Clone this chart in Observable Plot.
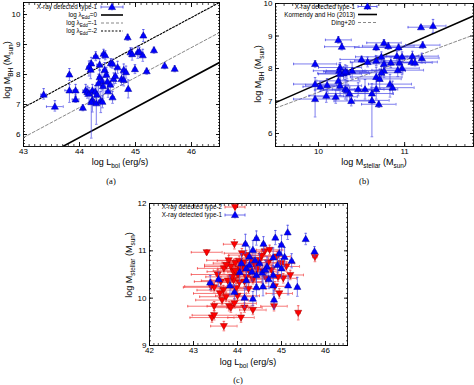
<!DOCTYPE html>
<html><head><meta charset="utf-8">
<script src="https://cdn.jsdelivr.net/npm/d3@7"></script>
<script src="https://cdn.jsdelivr.net/npm/@observablehq/plot@0.6"></script>
<style>
body{margin:0;background:#fff;}
#fig{position:relative;width:474px;height:385px;overflow:hidden;background:#fff;}
#fig svg{position:absolute;overflow:visible;}
</style></head><body><div id="fig"></div>
<script>
// ---------- Panel (a): log L_bol vs log M_BH (type-1) ----------
const aL   = [43.36,43.56,43.82,43.82,43.93,43.93,44.06,44.11,44.14,44.17,44.23,44.28,44.31,44.23,44.21,44.30,44.38,44.41,44.59,44.51,44.87,44.29,44.43,44.46,44.21,44.17,44.20,44.36,44.56,44.59,44.45,44.68,44.79,44.83,44.36,44.40,44.48,44.61,44.64,44.75,44.79,44.50,44.55,44.42,44.34,44.86,45.14,44.91,44.94,45.04,45.07,45.13,45.33,45.52,45.70,45.20,44.99];
const aM   = [7.33,6.93,8.00,7.47,7.47,7.17,6.89,7.47,7.41,7.36,7.47,7.43,7.33,7.15,7.08,7.04,7.13,7.09,7.24,7.44,7.52,8.61,8.69,8.64,8.37,8.25,8.16,8.33,8.38,8.36,8.15,8.24,8.15,8.08,7.91,7.78,7.99,7.85,7.95,7.85,7.82,7.76,7.66,7.61,7.71,9.24,9.30,8.74,8.68,8.74,8.76,8.64,8.81,8.29,8.19,8.11,8.18];
const aLerr= [0.05,0.15,0.03,0.08,0.04,0.06,0.03,0.05,0.04,0.05,0.04,0.03,0.04,0.04,0.04,0.04,0.04,0.03,0.03,0.05,0.03,0.04,0.04,0.03,0.04,0.04,0.04,0.05,0.04,0.04,0.04,0.04,0.04,0.03,0.04,0.04,0.04,0.03,0.03,0.03,0.03,0.04,0.04,0.04,0.04,0.03,0.03,0.03,0.03,0.03,0.03,0.03,0.03,0.03,0.03,0.03,0.03];
const aMlo = [0.15,0.15,0.2,0.4,0.2,0.1,0.1,0.2,0.2,0.3,0.3,0.2,0.3,0.4,1.2,0.7,0.4,0.2,0.2,0.2,0.3,0.15,0.15,0.15,0.25,0.3,0.3,0.2,0.15,0.15,0.25,0.2,0.2,0.2,0.25,0.3,0.25,0.2,0.25,0.2,0.2,0.3,0.3,0.4,0.3,0.1,0.2,0.15,0.2,0.2,0.15,0.2,0.1,0.1,0.1,0.1,0.15];
const aMhi = [0.2,0.2,0.2,0.2,0.2,0.15,0.1,0.2,0.2,0.2,0.2,0.2,0.3,0.3,0.3,0.3,0.3,0.2,0.2,0.2,0.3,0.15,0.15,0.15,0.2,0.2,0.3,0.2,0.15,0.15,0.25,0.2,0.2,0.2,0.25,0.3,0.25,0.2,0.25,0.2,0.2,0.3,0.2,0.3,0.3,0.1,0.2,0.15,0.2,0.2,0.15,0.2,0.1,0.1,0.1,0.1,0.15];
const aXTicks = [43,44,45,46];
const aYTicks = [6,7,8,9,10];
// Eddington-ratio lines, endpoints at the x-domain limits
const eddL  = [43, 46.5];
const eddM0 = [4.9, 8.4];
const eddM1 = [5.9, 9.4];
const eddM2 = [6.9, 10.4];

// ---------- Panel (b): log M_stellar vs log M_BH (type-1) ----------
const bS    = [11.19,11.33,10.23,10.27,10.67,10.76,10.81,10.93,11.21,9.96,10.50,10.57,10.67,10.73,10.76,10.84,10.91,10.97,10.94,11.09,11.20,11.08,11.12,10.92,10.97,10.76,10.73,10.25,10.24,10.25,10.29,10.33,10.39,10.31,10.67,10.71,9.96,10.02,10.10,10.23,10.25,10.31,10.33,10.46,10.54,10.62,10.67,10.83,10.86,9.96,10.09,10.20,10.36,10.38,10.62,10.70];
const bM    = [9.27,9.31,8.88,8.67,8.65,8.79,8.69,8.65,8.72,8.14,8.28,8.20,8.24,8.36,8.14,8.18,8.38,8.36,8.18,8.38,8.32,8.20,8.18,7.95,8.01,7.93,7.87,8.03,7.93,7.83,7.85,7.88,7.93,7.91,7.74,7.68,7.52,7.44,7.49,7.62,7.47,7.36,7.33,7.36,7.36,7.23,7.36,7.52,7.41,7.06,7.16,7.13,7.23,7.00,7.02,6.90];
const bSerr = [0.15,0.15,0.15,0.2,0.25,0.2,0.3,0.25,0.2,0.25,0.25,0.2,0.25,0.3,0.2,0.25,0.25,0.2,0.3,0.3,0.2,0.3,0.2,0.3,0.2,0.25,0.25,0.25,0.3,0.25,0.3,0.25,0.3,0.25,0.3,0.25,0.25,0.2,0.25,0.25,0.25,0.25,0.3,0.3,0.3,0.25,0.25,0.25,0.25,0.25,0.2,0.25,0.25,0.2,0.2,0.2];
const bMlo  = [0.05,0.2,0.1,0.1,0.1,0.1,0.1,0.1,0.1,0.1,0.1,0.15,0.15,0.15,0.1,0.15,0.15,0.15,0.1,0.15,0.15,0.1,0.1,0.2,0.2,0.2,0.25,0.15,0.2,0.2,0.2,0.2,0.25,0.2,0.3,0.3,0.2,0.15,0.2,0.3,0.3,0.3,0.3,0.2,0.3,0.3,0.3,0.4,0.2,0.55,0.2,0.2,0.3,0.15,1.12,0.1];
const bMhi  = [0.05,0.2,0.1,0.1,0.1,0.1,0.1,0.1,0.1,0.1,0.1,0.15,0.15,0.15,0.1,0.15,0.15,0.15,0.1,0.15,0.15,0.1,0.1,0.2,0.2,0.2,0.2,0.15,0.2,0.2,0.2,0.2,0.25,0.2,0.3,0.3,0.2,0.15,0.2,0.3,0.2,0.3,0.3,0.2,0.3,0.3,0.3,0.3,0.2,0.3,0.2,0.2,0.2,0.15,0.3,0.1];
const bXTicks = [10,11];
const bYTicks = [6,7,8,9,10];
const khS = [9.5, 11.8], khM = [6.95, 9.62];     // Kormendy and Ho (2013)
const dgS = [9.5, 11.8], dgM = [6.78, 9.03];     // Ding+20

// ---------- Panel (c): log L_bol vs log M_stellar ----------
const c1L  = [45.14,45.55,45.75,44.43,44.59,44.86,45.00,44.18,44.35,45.07,45.23,44.09,44.27,44.50,44.67,44.91,45.00,44.33,44.43,44.56,44.81,43.57,43.38,44.20,44.43,44.58,44.81,45.15,45.36,43.83,43.93,44.16,44.35,44.83,44.27,44.81,44.63,44.40,44.71,44.05,44.95,44.20];
const c1S  = [11.39,11.25,10.99,11.27,11.15,11.28,11.13,11.15,11.02,10.87,10.79,10.74,10.70,10.74,10.67,10.70,10.63,10.56,10.49,10.54,10.49,10.40,10.33,10.38,10.23,10.25,10.27,10.27,10.24,10.27,10.13,10.01,9.99,9.97,10.88,10.86,10.60,10.80,10.40,10.55,10.95,10.63];
const c1Le = [0.03,0.03,0.03,0.04,0.04,0.04,0.04,0.04,0.04,0.04,0.04,0.04,0.04,0.04,0.04,0.04,0.04,0.04,0.04,0.04,0.04,0.05,0.05,0.04,0.04,0.04,0.04,0.04,0.04,0.05,0.05,0.05,0.04,0.04,0.04,0.04,0.04,0.04,0.04,0.04,0.04,0.04];
const c1Se = [0.15,0.12,0.1,0.15,0.15,0.15,0.2,0.2,0.2,0.2,0.15,0.2,0.2,0.2,0.2,0.2,0.2,0.2,0.2,0.2,0.2,0.15,0.15,0.2,0.2,0.2,0.2,0.2,0.2,0.2,0.15,0.2,0.15,0.2,0.2,0.2,0.2,0.2,0.2,0.2,0.2,0.2];
const c2L  = [43.30,43.93,45.76,45.38,43.69,43.42,43.47,44.08,44.83,44.35,44.16,43.47,43.65,43.81,43.85,43.93,43.74,43.47,43.68,43.97,43.62,43.78,43.91,44.04,43.69,43.85,43.95,44.04,44.12,43.91,44.01,44.20,44.39,44.50,44.62,44.73,44.90,45.00,45.11,45.04,45.20,44.92,44.65,44.58,44.77,44.20,44.31,44.16,43.55,43.80,44.10,44.45,44.28,43.60,44.00,44.25,44.85,44.95,43.88,44.15,44.55,43.75,44.05,44.35,44.70,43.40,43.95];
const c2S  = [10.97,11.14,10.87,9.69,9.41,9.59,9.64,9.59,9.83,9.75,9.80,9.83,9.96,9.83,9.80,9.89,10.03,10.23,10.17,10.21,10.35,10.37,10.38,10.33,10.63,10.67,10.74,10.79,10.63,10.56,10.49,10.45,10.70,10.81,10.99,11.02,10.88,10.74,10.67,10.42,10.49,10.45,10.42,10.56,10.60,10.91,10.81,10.35,10.50,10.80,10.95,10.62,10.55,10.10,10.05,10.20,10.25,10.10,10.45,10.75,10.90,10.70,10.62,10.40,10.75,10.25,10.58];
const c2Le = [0.35,0.25,0.05,0.05,0.3,0.5,0.5,0.3,0.3,0.3,0.4,0.6,0.6,0.5,0.4,0.5,0.6,0.7,0.6,0.5,0.6,0.6,0.5,0.5,0.6,0.6,0.5,0.5,0.5,0.6,0.5,0.4,0.4,0.3,0.3,0.3,0.3,0.3,0.3,0.3,0.3,0.3,0.3,0.3,0.3,0.4,0.4,0.4,0.6,0.5,0.4,0.4,0.5,0.6,0.5,0.4,0.3,0.3,0.6,0.5,0.3,0.5,0.5,0.4,0.3,0.6,0.5];
const c2Se = [0.05,0.1,0.1,0.15,0.1,0.1,0.1,0.1,0.1,0.1,0.1,0.1,0.1,0.1,0.1,0.1,0.1,0.1,0.1,0.1,0.1,0.1,0.1,0.1,0.1,0.1,0.1,0.1,0.1,0.1,0.1,0.1,0.1,0.1,0.1,0.1,0.1,0.1,0.1,0.1,0.1,0.1,0.1,0.1,0.1,0.1,0.1,0.1,0.1,0.1,0.1,0.1,0.1,0.1,0.1,0.1,0.1,0.1,0.1,0.1,0.1,0.1,0.1,0.1,0.1,0.1,0.1];
const cXTicks = [42,43,44,45,46];
const cYTicks = [9,10,11,12];

// ---------- helpers ----------
const FONT = "Liberation Sans, Arial, sans-serif";
const SERIF = "Liberation Serif, 'DejaVu Serif', serif";
const BLUE = "#0000ff", BLUE_E = "#4646e6", BLUE_S = "#00009a";
const RED = "#ff0000", RED_E = "#f23c3c", RED_S = "#a00000";

const triUp = {draw(ctx, size){ const r = Math.sqrt(size/Math.PI);
  ctx.moveTo(0,-1.1*r); ctx.lineTo(1.08*r,0.78*r); ctx.lineTo(-1.08*r,0.78*r); ctx.closePath(); }};
const triDown = {draw(ctx, size){ const r = Math.sqrt(size/Math.PI);
  ctx.moveTo(0,1.1*r); ctx.lineTo(1.08*r,-0.78*r); ctx.lineTo(-1.08*r,-0.78*r); ctx.closePath(); }};
const vcap = {draw(ctx, size){ const h = Math.sqrt(size/Math.PI); ctx.moveTo(0,-h); ctx.lineTo(0,h); }};
const hcap = {draw(ctx, size){ const h = Math.sqrt(size/Math.PI); ctx.moveTo(-h,0); ctx.lineTo(h,0); }};

const range = (a,b,s) => d3.range(Math.round((b-a)/s)+1).map(i => +(a+i*s).toFixed(3));
const intFmt = d => String(Math.round(d));

function rows(xs, ys, exl, exh, eyl, eyh) {
  return xs.map((x,i) => ({x, y: ys[i], exl: exl[i], exh: exh[i], eyl: eyl[i], eyh: eyh[i]}));
}
function errMarks(data, color) {
  const o = {stroke: color, strokeWidth: 0.7};
  return [
    Plot.ruleY(data, {y: "y", x1: d => d.x - d.exl, x2: d => d.x + d.exh, ...o, clip: true}),
    Plot.ruleX(data, {x: "x", y1: d => d.y - d.eyl, y2: d => d.y + d.eyh, ...o, clip: true}),
    Plot.dot(data, {x: d => d.x - d.exl, y: "y", symbol: vcap, r: 1.3, ...o, clip: true}),
    Plot.dot(data, {x: d => d.x + d.exh, y: "y", symbol: vcap, r: 1.3, ...o, clip: true}),
    Plot.dot(data, {x: "x", y: d => d.y - d.eyl, symbol: hcap, r: 1.3, ...o, clip: true}),
    Plot.dot(data, {x: "x", y: d => d.y + d.eyh, symbol: hcap, r: 1.3, ...o, clip: true})
  ];
}
function frameAxes(xt, xm, yt, ym) {
  const none = () => "";
  return [
    Plot.axisX({ticks: xm, anchor: "bottom", tickSize: -2, tickFormat: none, label: null, strokeWidth: 0.7}),
    Plot.axisX({ticks: xm, anchor: "top", tickSize: -2, tickFormat: none, label: null, strokeWidth: 0.7}),
    Plot.axisY({ticks: ym, anchor: "left", tickSize: -2, tickFormat: none, label: null, strokeWidth: 0.7}),
    Plot.axisY({ticks: ym, anchor: "right", tickSize: -2, tickFormat: none, label: null, strokeWidth: 0.7}),
    Plot.axisX({ticks: xt, anchor: "bottom", tickSize: -4, tickPadding: 6, tickFormat: intFmt, label: null, strokeWidth: 0.9}),
    Plot.axisX({ticks: xt, anchor: "top", tickSize: -4, tickFormat: none, label: null, strokeWidth: 0.9}),
    Plot.axisY({ticks: yt, anchor: "left", tickSize: -4, tickPadding: 7, tickFormat: intFmt, label: null, strokeWidth: 0.9}),
    Plot.axisY({ticks: yt, anchor: "right", tickSize: -4, tickFormat: none, label: null, strokeWidth: 0.9}),
    Plot.frame({stroke: "#000", strokeWidth: 0.9})
  ];
}
function richText(svg, x, y, parts, {fs = 9, anchor = "middle", rotate = false, family = FONT} = {}) {
  const t = d3.select(svg).append("text")
    .attr("font-family", family).attr("font-size", fs).attr("text-anchor", anchor).attr("fill", "#000")
    .attr("transform", `translate(${x},${y})` + (rotate ? " rotate(-90)" : ""));
  let shift = 0;
  for (const [s, sub] of parts) {
    const want = sub ? fs * 0.32 : 0;
    const ts = t.append("tspan").text(s);
    if (want !== shift) { ts.attr("dy", want - shift); shift = want; }
    if (sub) ts.attr("font-size", fs * 0.72);
  }
  return t;
}
function legendLine(svg, x1, x2, y, stroke, width, dash) {
  d3.select(svg).append("line").attr("x1", x1).attr("x2", x2).attr("y1", y).attr("y2", y)
    .attr("stroke", stroke).attr("stroke-width", width).attr("stroke-dasharray", dash || null);
}
function legendPoint(svg, x1, x2, y, fill, stroke, ecolor, down) {
  const g = d3.select(svg).append("g");
  g.append("line").attr("x1", x1).attr("x2", x2).attr("y1", y).attr("y2", y).attr("stroke", ecolor).attr("stroke-width", 0.8);
  g.append("line").attr("x1", x1).attr("x2", x1).attr("y1", y-1.5).attr("y2", y+1.5).attr("stroke", ecolor).attr("stroke-width", 0.8);
  g.append("line").attr("x1", x2).attr("x2", x2).attr("y1", y-1.5).attr("y2", y+1.5).attr("stroke", ecolor).attr("stroke-width", 0.8);
  const xm = (x1 + x2) / 2;
  g.append("line").attr("x1", xm).attr("x2", xm).attr("y1", y-3.5).attr("y2", y+3.5).attr("stroke", ecolor).attr("stroke-width", 0.8);
  const r = 3.3;
  const p = down ? `M0,${1.1*r}L${1.08*r},${-0.78*r}L${-1.08*r},${-0.78*r}Z` : `M0,${-1.1*r}L${1.08*r},${0.78*r}L${-1.08*r},${0.78*r}Z`;
  g.append("path").attr("d", p).attr("transform", `translate(${xm},${y})`).attr("fill", fill).attr("stroke", stroke).attr("stroke-width", 0.5);
}
function legendText(svg, x, y, parts, fs = 6.3) {
  return richText(svg, x, y + 2.2, parts, {fs, anchor: "end"});
}
const style = {fontFamily: FONT, fontSize: "8px", background: "transparent", color: "#000", overflow: "visible"};
const fig = document.getElementById("fig");
function place(svg, left, top) { svg.style.left = left + "px"; svg.style.top = top + "px"; fig.appendChild(svg); }

// ---------- draw (a) ----------
const A = rows(aL, aM, aLerr, aLerr, aMlo, aMhi);
const svgA = Plot.plot({
  width: 237, height: 190, marginLeft: 23, marginRight: 18, marginTop: 2, marginBottom: 44,
  x: {domain: [43, 46.5]}, y: {domain: [5.6, 10.4]}, style,
  marks: [
    ...frameAxes(aXTicks, range(43, 46.5, 0.1), aYTicks, range(5.6, 10.4, 0.1)),
    Plot.line(eddL.map((x,i) => ({x, y: eddM0[i]})), {x: "x", y: "y", stroke: "#000", strokeWidth: 1.6, clip: true}),
    Plot.line(eddL.map((x,i) => ({x, y: eddM1[i]})), {x: "x", y: "y", stroke: "#555", strokeWidth: 0.7, strokeDasharray: "3,2", clip: true}),
    Plot.line(eddL.map((x,i) => ({x, y: eddM2[i]})), {x: "x", y: "y", stroke: "#000", strokeWidth: 1.1, strokeDasharray: "2,1.6", clip: true}),
    ...errMarks(A, BLUE_E),
    Plot.dot(A, {x: "x", y: "y", symbol: triUp, r: 3.3, fill: BLUE, stroke: BLUE_S, strokeWidth: 0.5})
  ]
});
place(svgA, 0, 0);
legendText(svgA, 97, 7, [["X-ray detected type-1", 0]]);
legendPoint(svgA, 101, 123, 7, BLUE, BLUE_S, BLUE_E, false);
legendText(svgA, 97, 15, [["log λ", 0], ["Edd", 1], ["=0", 0]]);
legendLine(svgA, 101, 123, 15, "#000", 1.6);
legendText(svgA, 97, 23, [["log λ", 0], ["Edd", 1], ["=-1", 0]]);
legendLine(svgA, 101, 123, 23, "#555", 0.7, "3,2");
legendText(svgA, 97, 31, [["log λ", 0], ["Edd", 1], ["=-2", 0]]);
legendLine(svgA, 101, 123, 31, "#000", 1.1, "2,1.6");
richText(svgA, 10, 70, [["log M", 0], ["BH", 1], [" (M", 0], ["sun", 1], [")", 0]], {rotate: true});
richText(svgA, 120, 165, [["log L", 0], ["bol", 1], [" (erg/s)", 0]]);
richText(svgA, 111, 184, [["(a)", 0]], {family: SERIF, fs: 8.5});

// ---------- draw (b) ----------
const B = rows(bS, bM, bSerr, bSerr, bMlo, bMhi);
const svgB = Plot.plot({
  width: 237, height: 190, marginLeft: 38, marginRight: 1, marginTop: 3, marginBottom: 44,
  x: {domain: [9.5, 11.8]}, y: {domain: [5.6, 10]}, style,
  marks: [
    ...frameAxes(bXTicks, range(9.5, 11.8, 0.1), bYTicks, range(5.6, 10, 0.1)),
    Plot.line(khS.map((x,i) => ({x, y: khM[i]})), {x: "x", y: "y", stroke: "#000", strokeWidth: 1.6, clip: true}),
    Plot.line(dgS.map((x,i) => ({x, y: dgM[i]})), {x: "x", y: "y", stroke: "#555", strokeWidth: 0.7, strokeDasharray: "3,2", clip: true}),
    ...errMarks(B, BLUE_E),
    Plot.dot(B, {x: "x", y: "y", symbol: triUp, r: 3.3, fill: BLUE, stroke: BLUE_S, strokeWidth: 0.5})
  ]
});
place(svgB, 237, 0);
legendText(svgB, 118, 6.5, [["X-ray detected type-1", 0]]);
legendPoint(svgB, 121, 140, 6.5, BLUE, BLUE_S, BLUE_E, false);
legendText(svgB, 118, 14.5, [["Kormendy and Ho (2013)", 0]]);
legendLine(svgB, 121, 140, 14.5, "#000", 1.6);
legendText(svgB, 118, 22.5, [["Ding+20", 0]]);
legendLine(svgB, 121, 140, 22.5, "#555", 0.7, "3,2");
richText(svgB, 24, 74, [["log M", 0], ["BH", 1], [" (M", 0], ["sun", 1], [")", 0]], {rotate: true});
richText(svgB, 137, 165, [["log M", 0], ["stellar", 1], [" (M", 0], ["sun", 1], [")", 0]]);
richText(svgB, 127, 184, [["(b)", 0]], {family: SERIF, fs: 8.5});

// ---------- draw (c) ----------
const C2 = rows(c2L, c2S, c2Le, c2Le, c2Se, c2Se);
const C1 = rows(c1L, c1S, c1Le, c1Le, c1Se, c1Se);
const svgC = Plot.plot({
  width: 250, height: 195, marginLeft: 39, marginRight: 13, marginTop: 13, marginBottom: 40,
  x: {domain: [42, 46.5]}, y: {domain: [9, 12]}, style,
  marks: [
    ...frameAxes(cXTicks, range(42, 46.5, 0.1), cYTicks, range(9, 12, 0.1)),
    ...errMarks(C2, RED_E),
    Plot.dot(C2, {x: "x", y: "y", symbol: triDown, r: 3.3, fill: RED, stroke: RED_S, strokeWidth: 0.5}),
    ...errMarks(C1, BLUE_E),
    Plot.dot(C1, {x: "x", y: "y", symbol: triUp, r: 3.3, fill: BLUE, stroke: BLUE_S, strokeWidth: 0.5})
  ]
});
place(svgC, 110, 190);
legendText(svgC, 112, 17, [["X-ray detected type-2", 0]]);
legendPoint(svgC, 115, 135, 17, RED, RED_S, RED_E, true);
legendText(svgC, 112, 25, [["X-ray detected type-1", 0]]);
legendPoint(svgC, 115, 135, 25, BLUE, BLUE_S, BLUE_E, false);
richText(svgC, 22, 75, [["log M", 0], ["stellar", 1], [" (M", 0], ["sun", 1], [")", 0]], {rotate: true});
richText(svgC, 138, 175, [["log L", 0], ["bol", 1], [" (erg/s)", 0]]);
richText(svgC, 128, 193, [["(c)", 0]], {family: SERIF, fs: 8.5});
</script></body></html>
